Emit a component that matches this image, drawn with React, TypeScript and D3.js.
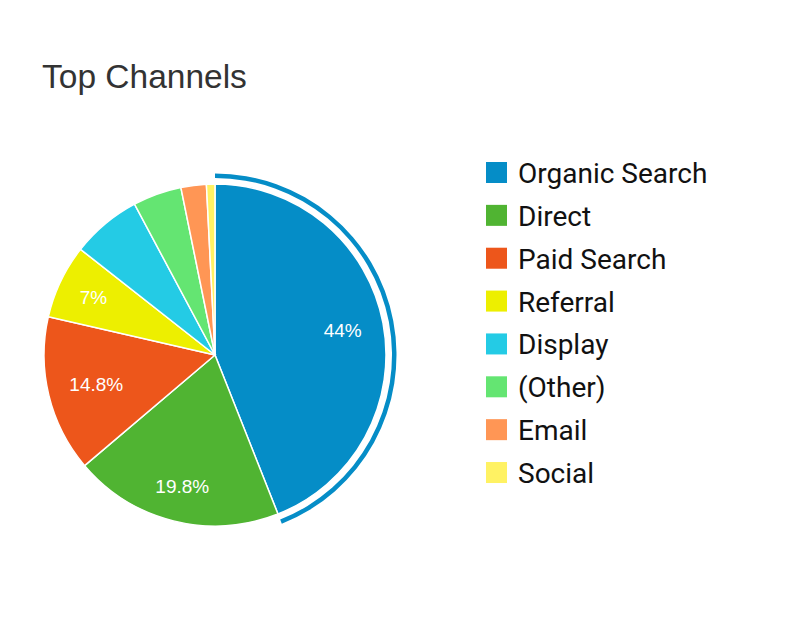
import React, { useEffect, useRef } from 'react';
import * as d3 from 'd3';

const channels = ["Organic Search", "Direct", "Paid Search", "Referral", "Display", "(Other)", "Email", "Social"];
const shares = [44, 19.8, 14.8, 7, 6.6, 4.6, 2.4, 0.8];
const colors = ["#058DC7", "#50B432", "#ED561B", "#EDEF00", "#24CBE5", "#64E572", "#FF9655", "#FFF263"];
const highlighted = "Organic Search";

const PieChart: React.FC = () => {
    const svgRef = useRef<SVGSVGElement>(null);

    useEffect(() => {
        if (!svgRef.current) return;
        const svg = d3.select(svgRef.current);
        svg.selectAll("*").remove();

        const width = 794;
        const height = 630;
        const cx = 215;
        const cy = 355;
        const radius = 171;

        svg.attr("width", width).attr("height", height);

        // Title
        svg.append("text")
            .attr("x", 42)
            .attr("y", 88)
            .attr("font-family", "'Liberation Sans', Arial, sans-serif")
            .attr("font-size", "33.5px")
            .attr("fill", "#333333")
            .text("Top Channels");

        const pie = d3.pie<number>().sort(null).value(d => d);
        const arcs = pie(shares);
        const arc = d3.arc<d3.PieArcDatum<number>>().innerRadius(0).outerRadius(radius);

        const g = svg.append("g").attr("transform", `translate(${cx},${cy})`);

        g.selectAll("path.slice")
            .data(arcs)
            .join("path")
            .attr("class", "slice")
            .attr("d", arc)
            .attr("fill", (d, i) => colors[i])
            .attr("stroke", "#ffffff")
            .attr("stroke-width", 1.5);

        // Ring around the selected slice
        const hi = arcs[channels.indexOf(highlighted)];
        const ring = d3.arc<d3.PieArcDatum<number>>().innerRadius(radius + 6).outerRadius(radius + 10.5);
        g.append("path")
            .attr("d", ring(hi))
            .attr("fill", colors[channels.indexOf(highlighted)]);

        // Slice labels: outer corner of the text box kept ~150px from centre
        const labelLimit = 150;
        const capH = 13.6;
        arcs.forEach((d, i) => {
            if (shares[i] < 7) return;
            const mid = (d.startAngle + d.endAngle) / 2;
            const sx = Math.sin(mid);
            const sy = -Math.cos(mid);
            const t = g.append("text")
                .attr("text-anchor", "middle")
                .attr("font-family", "'Liberation Sans', Arial, sans-serif")
                .attr("font-size", "19px")
                .attr("fill", "#ffffff")
                .text(`${shares[i]}%`);
            const w = (t.node() as SVGTextElement).getComputedTextLength();
            let lo = 0, up = labelLimit;
            for (let k = 0; k < 40; k++) {
                const m = (lo + up) / 2;
                const dx = Math.abs(m * sx) + w / 2;
                const dy = Math.abs(m * sy) + capH / 2;
                if (Math.hypot(dx, dy) > labelLimit) up = m; else lo = m;
            }
            t.attr("x", lo * sx).attr("y", lo * sy + capH / 2);
        });

        // Legend
        const legend = svg.append("g").attr("transform", "translate(486,183)");
        const rowStep = 42.86;
        const rows = legend.selectAll("g")
            .data(channels)
            .join("g")
            .attr("transform", (d, i) => `translate(0,${i * rowStep})`);
        rows.append("rect")
            .attr("x", 0)
            .attr("y", -21)
            .attr("width", 21)
            .attr("height", 21)
            .attr("fill", (d, i) => colors[i]);
        rows.append("text")
            .attr("x", 32)
            .attr("y", 0)
            .attr("font-family", "Roboto, 'Noto Sans', sans-serif")
            .attr("font-size", "28px")
            .attr("fill", "#111111")
            .text(d => d);
    }, []);

    return <svg ref={svgRef} style={{ display: "block" }} />;
};

export default function App() {
    return (
        <div style={{ position: "absolute", left: 0, top: 0, width: 794, height: 630, background: "#ffffff" }}>
            <PieChart />
        </div>
    );
}
